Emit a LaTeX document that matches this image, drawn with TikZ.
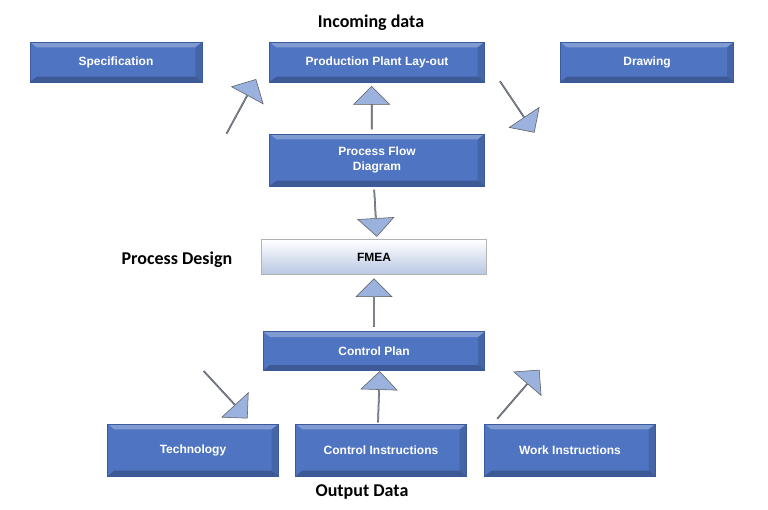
\documentclass[tikz,border=0pt]{standalone}
\usepackage{fontspec}
\setmainfont{Liberation Sans}
\newfontfamily\labelfont{Carlito}
\usetikzlibrary{shapes.arrows}
\definecolor{boxblue}{HTML}{4F74C1}
\definecolor{boxedge}{HTML}{3A5A9E}
\definecolor{arrowfill}{HTML}{9BB2DE}
\definecolor{fmeatop}{HTML}{FFFFFF}
\definecolor{fmeabot}{HTML}{B9C7E3}
\tikzset{
  bevelbox/.style={draw=boxedge, fill=boxblue, text=white, font=\bfseries\small,
    align=center, inner sep=0.75pt,
    path picture={
      \fill[white,opacity=.28] (path picture bounding box.north west) -- (path picture bounding box.north east)
        -- ([xshift=-5pt,yshift=-4pt]path picture bounding box.north east) -- ([xshift=5pt,yshift=-4pt]path picture bounding box.north west) -- cycle;
      \fill[black,opacity=.22] (path picture bounding box.south west) -- (path picture bounding box.south east)
        -- ([xshift=-5pt,yshift=4pt]path picture bounding box.south east) -- ([xshift=5pt,yshift=4pt]path picture bounding box.south west) -- cycle;
      \fill[black,opacity=.12] (path picture bounding box.north east) -- (path picture bounding box.south east)
        -- ([xshift=-5pt,yshift=4pt]path picture bounding box.south east) -- ([xshift=-5pt,yshift=-4pt]path picture bounding box.north east) -- cycle;}},
  fmeabox/.style={draw=gray!60, top color=fmeatop, bottom color=fmeabot, text=black, font=\bfseries\small, inner sep=0.75pt},
  flowarrow/.style={single arrow, draw=gray!70!black, fill=arrowfill, inner sep=0pt,
    minimum width=27pt, single arrow head extend=6pt, single arrow tip angle=90, sloped},
  heading/.style={font=\labelfont\bfseries\fontsize{13.5}{16}\selectfont, inner sep=0.75pt}
}
\begin{document}
\begin{tikzpicture}[x=0.75pt,y=0.75pt,yscale=-1,xscale=1]
\useasboundingbox (0,0) rectangle (768,510);

% Headings
\node[heading] (incoming) at (371,23) {Incoming data};
\node[heading] (design) at (177,260) {Process Design};
\node[heading] (output) at (362,492) {Output Data};

% Incoming boxes
\node[bevelbox, minimum width=129pt, minimum height=30pt] (spec) at (116,62) {Specification};
\node[bevelbox, minimum width=161pt, minimum height=30pt] (layout) at (377,62) {Production Plant Lay-out};
\node[bevelbox, minimum width=130pt, minimum height=30pt] (drawing) at (647,62) {Drawing};

% Process
\node[bevelbox, minimum width=161pt, minimum height=39pt] (pfd) at (377,160) {Process Flow\\Diagram};
\node[fmeabox, minimum width=169pt, minimum height=26pt] (fmea) at (374,257) {FMEA};
\node[bevelbox, minimum width=166pt, minimum height=29pt] (cplan) at (374,351) {Control Plan};

% Output boxes
\node[bevelbox, minimum width=128pt, minimum height=39pt] (tech) at (193,450) {Technology};
\node[bevelbox, minimum width=128pt, minimum height=39pt] (ctrlinst) at (381,450) {Control Instructions};
\node[bevelbox, minimum width=128pt, minimum height=39pt] (workinst) at (570,450) {Work Instructions};

% Arrows
\path ([xshift=-4pt]layout.south) -- ([xshift=-4pt]pfd.north) node[flowarrow, midway, minimum height=32pt] {};
\path ([xshift=16pt,yshift=-6pt]spec.south east) -- ([xshift=-8pt,yshift=4pt]pfd.north west) node[flowarrow, midway, minimum height=46pt] {};
\path ([xshift=-16pt,yshift=-6pt]drawing.south west) -- ([xshift=8pt,yshift=4pt]pfd.north east) node[flowarrow, midway, minimum height=46pt] {};
\path (pfd.south) -- (fmea.north) node[flowarrow, midway, minimum height=35pt] {};
\path (fmea.south) -- (cplan.north) node[flowarrow, midway, minimum height=36pt] {};
\path ([xshift=3pt]cplan.south) -- ([xshift=-1pt]ctrlinst.north) node[flowarrow, midway, minimum height=38pt] {};
\path ([xshift=-8pt,yshift=-4pt]cplan.south west) -- ([xshift=4pt]tech.north) node[flowarrow, midway, minimum height=48pt] {};
\path ([xshift=6pt,yshift=-4pt]cplan.south east) -- ([xshift=-20pt]workinst.north) node[flowarrow, midway, minimum height=48pt] {};
\end{tikzpicture}
\end{document}
